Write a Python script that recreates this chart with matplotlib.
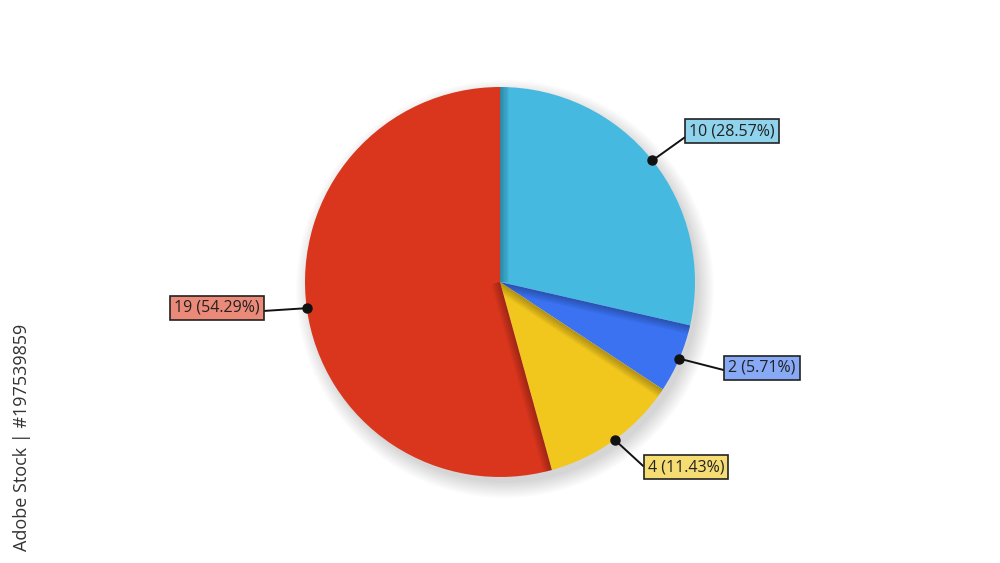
import matplotlib.pyplot as plt
from matplotlib.patches import Circle, Polygon
import numpy as np

# data
values = [10, 2, 4, 19]
labels = ["10 (28.57%)", "2 (5.71%)", "4 (11.43%)", "19 (54.29%)"]
colors = ["#45B9DF", "#3A72F2", "#F1C61D", "#DA361D"]
box_colors = ["#8FD3EC", "#88A9F6", "#F6DD73", "#EC8A79"]
# where each label box sits (pixels from top-left)
box_pos = [(732, 131), (762, 368), (686, 467), (217, 308)]
box_side = ["left", "left", "left", "right"]

W, H = 1000, 563
cx, cy, r = 500, H - 282, 195

fig = plt.figure(figsize=(10, 5.63), dpi=100)
ax = fig.add_axes([0, 0, 1, 1])

# soft drop shadow
for k in range(14):
    ax.add_patch(Circle((cx + 5, cy - 7), r + 14 - k * 1.2, color="black",
                        alpha=0.011, lw=0, zorder=1))

wedges, _ = ax.pie(values, colors=colors, startangle=90, counterclock=False,
                   center=(cx, cy), radius=r, frame=True,
                   wedgeprops=dict(linewidth=0, zorder=2))
ax.set_xlim(0, W)
ax.set_ylim(0, H)
ax.set_aspect("equal")
ax.axis("off")

# inner shading along the leading edge of each slice
for w in wedges:
    a = np.deg2rad(w.theta2)
    u = np.array([np.cos(a), np.sin(a)])
    n = np.array([np.sin(a), -np.cos(a)])
    c = np.array([cx, cy])
    for d in np.linspace(1, 9, 8):
        pts = [c, c + u * (r + 2), c + u * (r + 2) + n * d, c + n * d]
        p = Polygon(pts, closed=True, color="black", alpha=0.035, lw=0, zorder=3)
        ax.add_patch(p)
        p.set_clip_path(w)

# leader lines, dots and label boxes
for w, lab, bc, (bx, by), side in zip(wedges, labels, box_colors, box_pos, box_side):
    ang = np.deg2rad((w.theta1 + w.theta2) / 2)
    px, py = cx + r * np.cos(ang), cy + r * np.sin(ang)
    rel = (0, 0.3) if side == "left" else (1, 0.3)
    ax.annotate(lab, xy=(px, py), xytext=(bx, H - by), ha="center", va="center",
                fontsize=11.5, family="Open Sans", color="#222222", zorder=6,
                bbox=dict(boxstyle="square,pad=0.25", fc=bc, ec="#222222", lw=1.2),
                arrowprops=dict(arrowstyle="-", color="#111111", lw=1.4,
                                shrinkA=0, shrinkB=0, relpos=rel))
    ax.plot(px, py, "o", color="#111111", ms=6.5, zorder=5)

# side caption
ax.text(22, H - 437, "Adobe Stock | #197539859", rotation=90, ha="center",
        va="center", fontsize=13, family="Open Sans", color="#333333")

fig.savefig("out.png", dpi=100)
